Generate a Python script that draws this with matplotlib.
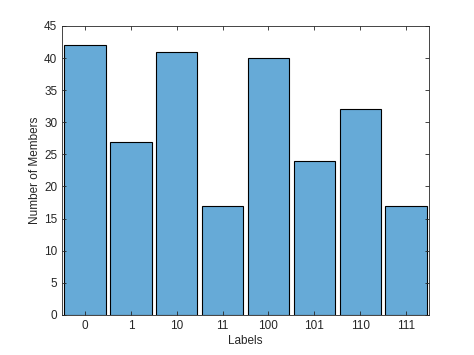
import matplotlib
matplotlib.use("Agg")
import matplotlib.pyplot as plt
import numpy as np

labels = ["0", "1", "10", "11", "100", "101", "110", "111"]
counts = [42, 27, 41, 17, 40, 24, 32, 17]

plt.rcParams["font.family"] = ["Liberation Sans", "DejaVu Sans"]
plt.rcParams["font.size"] = 8.5

fig = plt.figure(figsize=(4.74, 3.55), dpi=100)
ax = fig.add_axes([0.131, 0.113, 0.774, 0.814])
x = np.arange(len(labels))
ax.bar(x, counts, width=0.9, color="#66AAD7", edgecolor="black", linewidth=0.8)

ax.set_xlim(-0.5, len(labels) - 0.5)
ax.set_ylim(0, 45)
ax.set_yticks(np.arange(0, 46, 5))
ax.set_xticks(x)
ax.set_xticklabels(labels)
ax.set_xlabel("Labels", color="#262626", fontsize=8.5, labelpad=2)
ax.set_ylabel("Number of Members", color="#262626", fontsize=8.5, labelpad=2)
ax.tick_params(direction="in", top=True, right=True, length=3, width=0.6,
               colors="#262626", labelcolor="#262626")
for s in ax.spines.values():
    s.set_color("#262626")
    s.set_linewidth(0.6)

fig.savefig("out.png", dpi=100)
